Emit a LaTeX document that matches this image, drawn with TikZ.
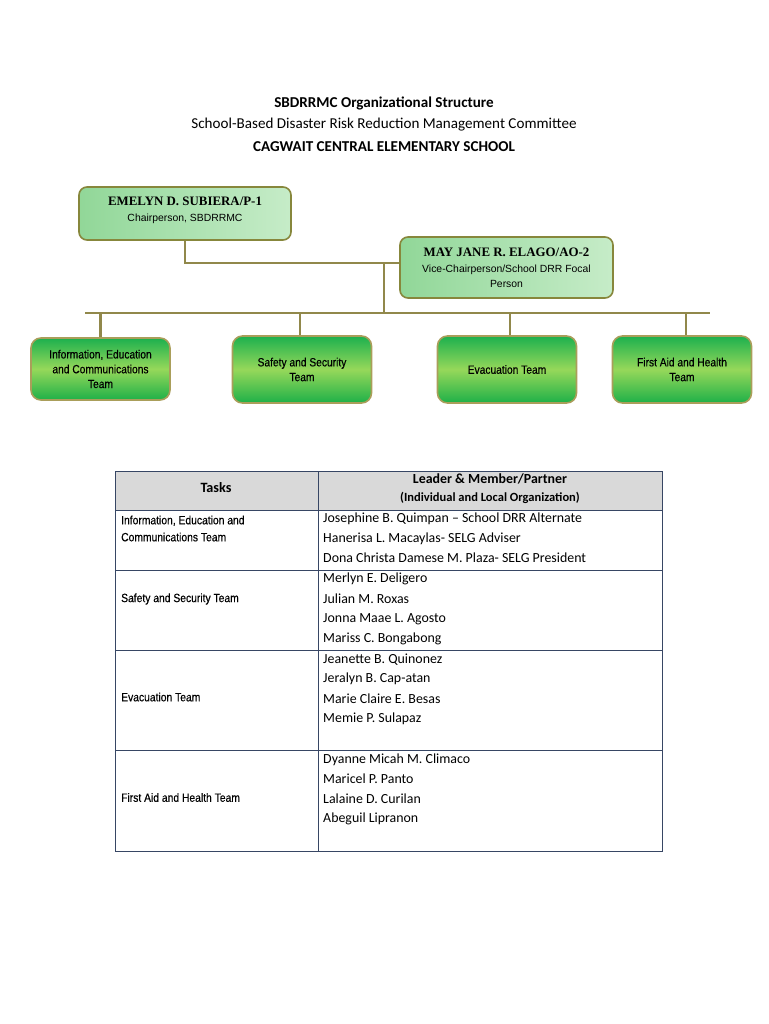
\documentclass[tikz,border=0pt]{standalone}
\usepackage{fontspec}
\setmainfont{Carlito}
\newfontfamily\arialn{Liberation Sans}[FakeStretch=0.86,FakeBold=0.35]
\newfontfamily\arialf{Liberation Sans}
\newfontfamily\timesf{Liberation Serif}
\definecolor{conn}{RGB}{145,136,75}
\definecolor{topbd}{RGB}{135,135,60}
\definecolor{teambd}{RGB}{170,158,90}
\definecolor{topL}{RGB}{145,215,152}
\definecolor{topR}{RGB}{198,236,200}
\definecolor{teamT}{RGB}{28,176,78}
\definecolor{teamM}{RGB}{150,216,90}
\definecolor{teamB}{RGB}{30,176,72}
\definecolor{tbl}{RGB}{55,70,100}
\definecolor{hdr}{RGB}{217,217,217}
\begin{document}
\begin{tikzpicture}[x=1pt,y=-1pt,
  topbox/.style={draw=topbd,line width=1.6pt,rounded corners=8pt,left color=topL,right color=topR,inner sep=0pt},
  toptitle/.style={inner sep=0pt,anchor=base,font=\timesf\bfseries\fontsize{12.9}{15}\selectfont},
  topsub/.style={inner sep=0pt,anchor=base,font=\arialf\fontsize{10.4}{15}\selectfont},
  teambox/.style={draw=teambd,line width=1.6pt,rounded corners=10pt,top color=teamT,bottom color=teamB,middle color=teamM,
     align=center,inner sep=0pt,minimum width=139pt,font=\arialn\fontsize{11.9}{14.8}\selectfont},
  conline/.style={draw=conn,line width=2.8pt},
  tline/.style={draw=tbl,line width=0.9pt},
  person/.style={anchor=west,inner sep=0pt,font=\fontsize{13.9}{15}\selectfont},
  tasklbl/.style={anchor=west,inner sep=0pt,align=left,font=\arialn\fontsize{12}{17}\selectfont},
  ttl/.style={inner sep=0pt,font=\fontsize{15.1}{17}\selectfont}]
\useasboundingbox (0,0) rectangle (768,1024);
\fill[white] (0,0) rectangle (768,1024);
% titles
\node[ttl,font=\bfseries\fontsize{15.1}{17}\selectfont] (t1) at (384,103) {SBDRRMC Organizational Structure};
\node[ttl] (t2) at (384,125) {School-Based Disaster Risk Reduction Management Committee};
\node[ttl,font=\bfseries\fontsize{15.1}{17}\selectfont] (t3) at (384,147) {CAGWAIT CENTRAL ELEMENTARY SCHOOL};
% top boxes
\node[topbox,minimum width=212pt,minimum height=53pt] (chair) at (185,213.5) {};
\node[toptitle] (chairname) at (185,205.5) {EMELYN D. SUBIERA/P-1};
\node[topsub] (chairrole) at (185,221.5) {Chairperson, SBDRRMC};
\node[topbox,minimum width=213pt,minimum height=61pt] (vice) at (506.5,267.5) {};
\node[toptitle] (vicename) at (506.5,256.5) {MAY JANE R. ELAGO/AO-2};
\node[topsub] (vicerole1) at (506.5,272) {Vice-Chairperson/School DRR Focal};
\node[topsub] (vicerole2) at (506.5,287) {Person};
% connectors
\coordinate (j) at (384,263);
\coordinate (jb) at (384,313);
\coordinate (barL) at (85,313);
\coordinate (barR) at (710,313);
\draw[conline] (chair.south) |- (vice.west |- j);
\draw[conline] (j) -- (jb);
\draw[conline] (barL) -- (barR);
% team boxes
\node[teambox,minimum height=62pt] (info) at (100.5,369) {Information, Education\\and Communications\\Team};
\node[teambox,minimum height=67pt] (safe) at (302,369.5) {Safety and Security\\Team};
\node[teambox,minimum height=67pt] (evac) at (507,369.5) {Evacuation Team};
\node[teambox,minimum height=67pt] (aid) at (682,369.5) {First Aid and Health\\Team};
\draw[conline] (info.north |- barL) -- (info.north);
\draw[conline] ([xshift=-2pt]safe.north |- barL) -- ([xshift=-2pt]safe.north);
\draw[conline] ([xshift=3pt]evac.north |- barL) -- ([xshift=3pt]evac.north);
\draw[conline] ([xshift=4pt]aid.north |- barL) -- ([xshift=4pt]aid.north);
% table
\fill[hdr] (115,471) rectangle (662,510);
\draw[tline] (115,471) rectangle (662,851);
\draw[tline] (318,471) -- (318,851);
\foreach \yy in {510,570,650,750}{\draw[tline] (115,\yy) -- (662,\yy);}
\node[inner sep=0pt,font=\bfseries\fontsize{14.2}{15}\selectfont] (htask) at (216,488) {Tasks};
\node[inner sep=0pt,font=\bfseries\fontsize{13.9}{15}\selectfont] (hlead) at (490,479) {Leader \& Member/Partner};
\node[inner sep=0pt,font=\bfseries\fontsize{12.5}{14}\selectfont] (hind) at (490,497.5) {(Individual and Local Organization)};
% tasks
\node[tasklbl] (k1) at (121,528.5) {Information, Education and\\Communications Team};
\node[tasklbl] (k2) at (121,599) {Safety and Security Team};
\node[tasklbl] (k3) at (121,697) {Evacuation Team};
\node[tasklbl] (k4) at (121,797.5) {First Aid and Health Team};
% names
\node[person] (n1) at (323,519) {Josephine B. Quimpan – School DRR Alternate};
\node[person] (n2) at (323,538.5) {Hanerisa L. Macaylas- SELG Adviser};
\node[person] (n3) at (323,558) {Dona Christa Damese M. Plaza- SELG President};
\node[person] (n4) at (323,578.5) {Merlyn E. Deligero};
\node[person] (n5) at (323,598.5) {Julian M. Roxas};
\node[person] (n6) at (323,619) {Jonna Maae L. Agosto};
\node[person] (n7) at (323,638.5) {Mariss C. Bongabong};
\node[person] (n8) at (323,659.5) {Jeanette B. Quinonez};
\node[person] (n9) at (323,679) {Jeralyn B. Cap-atan};
\node[person] (n10) at (323,698.5) {Marie Claire E. Besas};
\node[person] (n11) at (323,719) {Memie P. Sulapaz};
\node[person] (n12) at (323,759.5) {Dyanne Micah M. Climaco};
\node[person] (n13) at (323,779) {Maricel P. Panto};
\node[person] (n14) at (323,798.5) {Lalaine D. Curilan};
\node[person] (n15) at (323,819) {Abeguil Lipranon};
\end{tikzpicture}
\end{document}
